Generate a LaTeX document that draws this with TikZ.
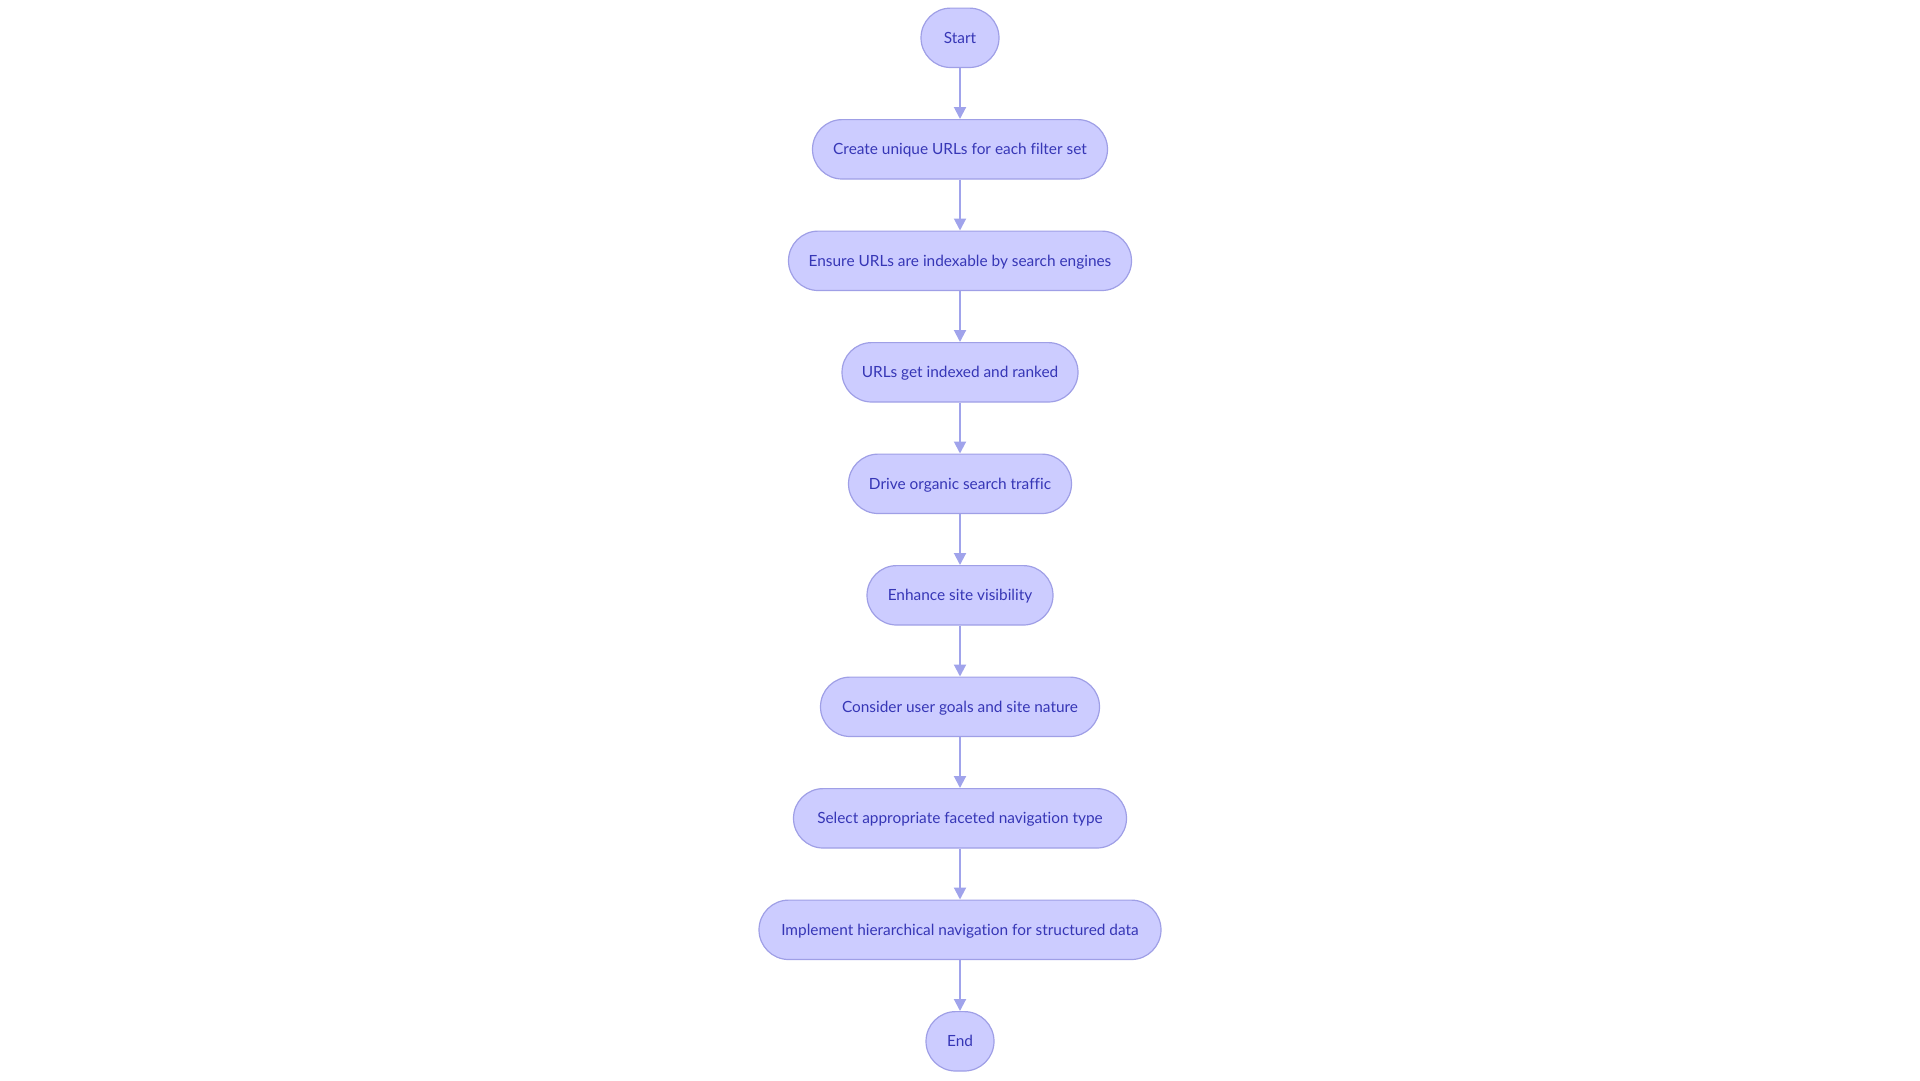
\documentclass[tikz,border=0pt]{standalone}
\usepackage{fontspec}
\setmainfont{Lato}[Ligatures={NoCommon}]
\usetikzlibrary{arrows.meta,shapes.misc}
\definecolor{boxfill}{HTML}{CCCCFF}
\definecolor{boxline}{HTML}{9F9FE6}
\definecolor{boxtext}{HTML}{3636B6}
\definecolor{arrowcol}{HTML}{A0A3EB}
\tikzset{
  flowbox/.style={rounded rectangle, draw=boxline, fill=boxfill, line width=1.2pt,
    text=boxtext, minimum height=59.4pt, inner sep=0pt, text height=11pt, text depth=0pt,
    font=\fontsize{15.4}{18}\selectfont},
  flowarrow/.style={draw=arrowcol, line width=2pt, -{Triangle[length=12pt,width=12pt]}}
}
\begin{document}
\begin{tikzpicture}[x=1pt,y=-1pt]
\useasboundingbox (0,0) rectangle (1920,1080);
\node[flowbox, minimum width=78pt]  (n0) at (960,37.8) {Start};
\node[flowbox, minimum width=295pt] (n1) at (960,149.3) {Create unique URLs for each filter set};
\node[flowbox, minimum width=343pt] (n2) at (960,260.8) {Ensure URLs are indexable by search engines};
\node[flowbox, minimum width=236pt] (n3) at (960,372.3) {URLs get indexed and ranked};
\node[flowbox, minimum width=223pt] (n4) at (960,483.8) {Drive organic search traffic};
\node[flowbox, minimum width=186pt] (n5) at (960,595.3) {Enhance site visibility};
\node[flowbox, minimum width=279pt] (n6) at (960,706.8) {Consider user goals and site nature};
\node[flowbox, minimum width=333pt] (n7) at (960,818.3) {Select appropriate faceted navigation type};
\node[flowbox, minimum width=402pt] (n8) at (960,929.8) {Implement hierarchical navigation for structured data};
\node[flowbox, minimum width=68pt]  (n9) at (960,1041.3) {End};
\foreach \a/\b in {n0/n1,n1/n2,n2/n3,n3/n4,n4/n5,n5/n6,n6/n7,n7/n8,n8/n9}
  \draw[flowarrow] (\a.south) -- (\b.north);
\end{tikzpicture}
\end{document}
